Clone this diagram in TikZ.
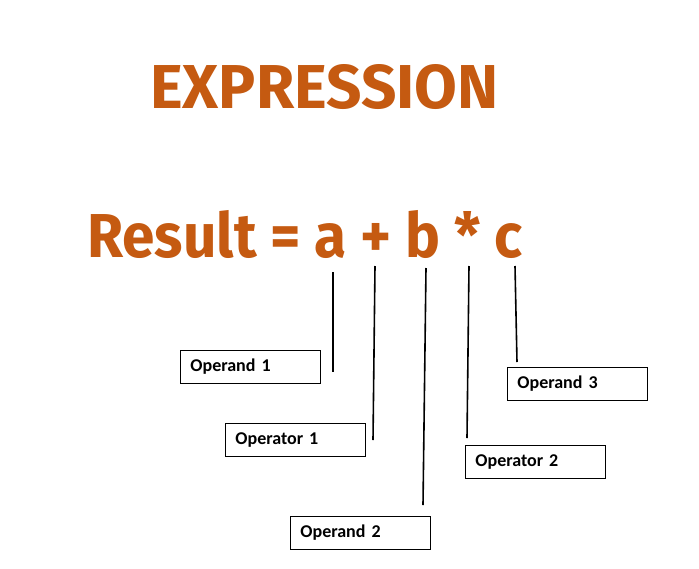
\documentclass[tikz,border=0pt]{standalone}
\usepackage{fontspec}
\setmainfont{Fira Sans}
\newfontfamily\boxfont{Carlito}
\definecolor{exprorange}{RGB}{197,90,17}
\begin{document}
\begin{tikzpicture}[x=1pt,y=-1pt,
  bigtxt/.style={anchor=base west,inner sep=0pt,text=exprorange,font=\fontsize{62}{70}\selectfont\bfseries},
  labelbox/.style={draw=black,line width=0.9pt,minimum width=140pt,minimum height=33pt,inner xsep=10pt,text width=120pt,align=left,font=\boxfont\fontsize{18}{20}\selectfont\bfseries,anchor=north west},
  tick/.style={line width=1.6pt,black}]
\useasboundingbox[fill=white] (0,0) rectangle (699,568);
\node[bigtxt] (title) at (150,108) {EXPRESSION};
\node[bigtxt] (expr) at (87,257) {\scalebox{0.945}[1]{Result = a + b * c}};
\node[labelbox] (op1) at (180,350) {Operand 1};
\node[labelbox] (or1) at (225,423) {Operator 1};
\node[labelbox] (op2) at (290,516) {Operand 2};
\node[labelbox] (or2) at (465,445) {Operator 2};
\node[labelbox] (op3) at (507,367) {Operand 3};
\coordinate (ta) at (333,272); \coordinate (ba) at (333,372);
\coordinate (tp) at (375,266); \coordinate (bp) at (373,440);
\coordinate (tb) at (426,268); \coordinate (bb) at (423,505);
\coordinate (ts) at (469,266); \coordinate (bs) at (467,438);
\coordinate (tc) at (515,266); \coordinate (bc) at (517,362);
\draw[tick] (ta) -- (ba);
\draw[tick] (tp) -- (bp);
\draw[tick] (tb) -- (bb);
\draw[tick] (ts) -- (bs);
\draw[tick] (tc) -- (bc);
\end{tikzpicture}
\end{document}
